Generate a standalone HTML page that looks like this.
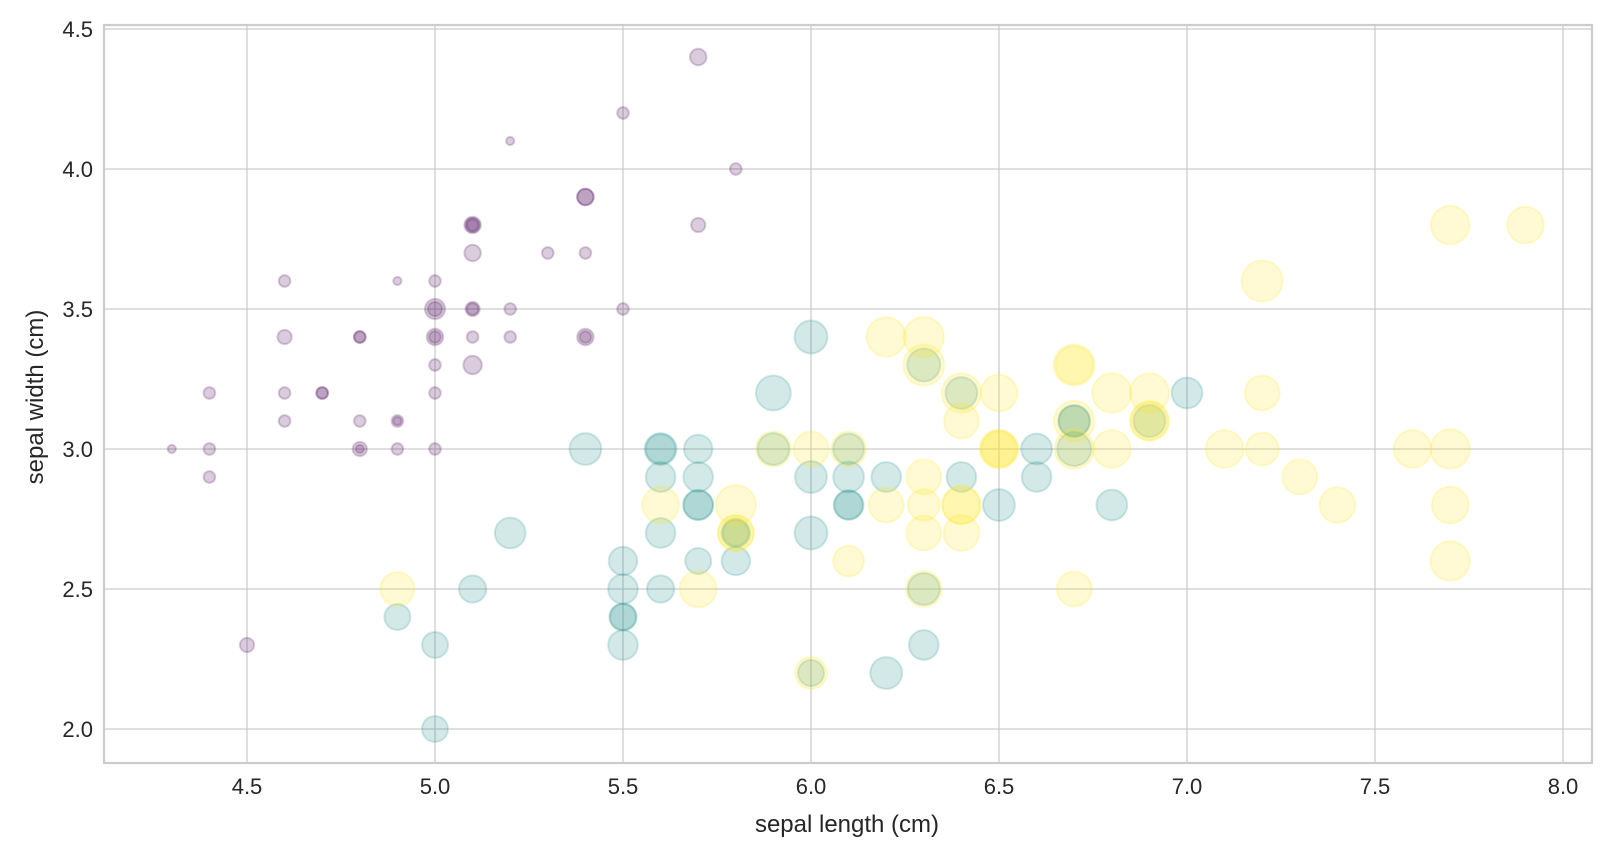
<!DOCTYPE html>
<html><head><meta charset="utf-8"><style>
body{margin:0;background:#fff}
svg text{font-family:"Liberation Sans",sans-serif;fill:#262626}
</style></head><body>
<svg id="s" width="1611" height="857" xmlns="http://www.w3.org/2000/svg">
<rect x="0" y="0" width="1611" height="857" fill="#fff"/>
<g id="grid" stroke="#cccccc" stroke-width="1.3"></g>
<g id="pts"></g>
<rect x="104" y="25" width="1488" height="738" fill="none" stroke="#cccccc" stroke-width="2.2"/>
<g id="lbl" font-size="22"></g>
<text x="847" y="832" font-size="24" text-anchor="middle">sepal length (cm)</text>
<text transform="translate(43,397) rotate(-90)" font-size="24" text-anchor="middle">sepal width (cm)</text>
</svg>
<script>
const X=v=>247+(v-4.5)*376, Y=v=>729-(v-2)*280;
const ns="http://www.w3.org/2000/svg";
function el(p,t,a,txt){const e=document.createElementNS(ns,t);for(const k in a)e.setAttribute(k,a[k]);if(txt)e.textContent=txt;document.getElementById(p).appendChild(e);}
for(let v=4.5;v<=8.001;v+=0.5){el("grid","line",{x1:X(v),x2:X(v),y1:25,y2:763});el("lbl","text",{x:X(v),y:794,"text-anchor":"middle"},v.toFixed(1));}
for(let v=2;v<=4.501;v+=0.5){el("grid","line",{x1:104,x2:1592,y1:Y(v),y2:Y(v)});el("lbl","text",{x:93,y:Y(v)+8,"text-anchor":"end"},v.toFixed(1));}
const d=[
"5.1,3.5,0.2;4.9,3.0,0.2;4.7,3.2,0.2;4.6,3.1,0.2;5.0,3.6,0.2;5.4,3.9,0.4;4.6,3.4,0.3;5.0,3.4,0.2;4.4,2.9,0.2;4.9,3.1,0.1;5.4,3.7,0.2;4.8,3.4,0.2;4.8,3.0,0.1;4.3,3.0,0.1;5.8,4.0,0.2;5.7,4.4,0.4;5.4,3.9,0.4;5.1,3.5,0.3;5.7,3.8,0.3;5.1,3.8,0.3;5.4,3.4,0.2;5.1,3.7,0.4;4.6,3.6,0.2;5.1,3.3,0.5;4.8,3.4,0.2;5.0,3.0,0.2;5.0,3.4,0.4;5.2,3.5,0.2;5.2,3.4,0.2;4.7,3.2,0.2;4.8,3.1,0.2;5.4,3.4,0.4;5.2,4.1,0.1;5.5,4.2,0.2;4.9,3.1,0.2;5.0,3.2,0.2;5.5,3.5,0.2;4.9,3.6,0.1;4.4,3.0,0.2;5.1,3.4,0.2;5.0,3.5,0.3;4.5,2.3,0.3;4.4,3.2,0.2;5.0,3.5,0.6;5.1,3.8,0.4;4.8,3.0,0.3;5.1,3.8,0.2;4.6,3.2,0.2;5.3,3.7,0.2;5.0,3.3,0.2",
"7.0,3.2,1.4;6.4,3.2,1.5;6.9,3.1,1.5;5.5,2.3,1.3;6.5,2.8,1.5;5.7,2.8,1.3;6.3,3.3,1.6;4.9,2.4,1.0;6.6,2.9,1.3;5.2,2.7,1.4;5.0,2.0,1.0;5.9,3.0,1.5;6.0,2.2,1.0;6.1,2.9,1.4;5.6,2.9,1.3;6.7,3.1,1.4;5.6,3.0,1.5;5.8,2.7,1.0;6.2,2.2,1.5;5.6,2.5,1.1;5.9,3.2,1.8;6.1,2.8,1.3;6.3,2.5,1.5;6.1,2.8,1.2;6.4,2.9,1.3;6.6,3.0,1.4;6.8,2.8,1.4;6.7,3.0,1.7;6.0,2.9,1.5;5.7,2.6,1.0;5.5,2.4,1.1;5.5,2.4,1.0;5.8,2.7,1.2;6.0,2.7,1.6;5.4,3.0,1.5;6.0,3.4,1.6;6.7,3.1,1.5;6.3,2.3,1.3;5.6,3.0,1.3;5.5,2.5,1.3;5.5,2.6,1.2;6.1,3.0,1.4;5.8,2.6,1.2;5.0,2.3,1.0;5.6,2.7,1.3;5.7,3.0,1.2;5.7,2.9,1.3;6.2,2.9,1.3;5.1,2.5,1.1;5.7,2.8,1.3",
"6.3,3.3,2.5;5.8,2.7,1.9;7.1,3.0,2.1;6.3,2.9,1.8;6.5,3.0,2.2;7.6,3.0,2.1;4.9,2.5,1.7;7.3,2.9,1.8;6.7,2.5,1.8;7.2,3.6,2.5;6.5,3.2,2.0;6.4,2.7,1.9;6.8,3.0,2.1;5.7,2.5,2.0;5.8,2.8,2.4;6.4,3.2,2.3;6.5,3.0,1.8;7.7,3.8,2.2;7.7,2.6,2.3;6.0,2.2,1.5;6.9,3.2,2.3;5.6,2.8,2.0;7.7,2.8,2.0;6.3,2.7,1.8;6.7,3.3,2.1;7.2,3.2,1.8;6.2,2.8,1.8;6.1,3.0,1.8;6.4,2.8,2.1;7.2,3.0,1.6;7.4,2.8,1.9;7.9,3.8,2.0;6.4,2.8,2.2;6.3,2.8,1.5;6.1,2.6,1.4;7.7,3.0,2.3;6.3,3.4,2.4;6.4,3.1,1.8;6.0,3.0,1.8;6.9,3.1,2.1;6.7,3.1,2.4;6.9,3.1,2.3;5.8,2.7,1.9;6.8,3.2,2.3;6.7,3.3,2.5;6.7,3.0,2.3;6.3,2.5,1.9;6.5,3.0,2.0;6.2,3.4,2.3;5.9,3.0,1.8"];
const cols=["#440154","#21918c","#fde725"];
d.forEach((s,i)=>s.split(";").forEach(r=>{const [a,b,w]=r.split(",").map(Number);
const rad=Math.sqrt(100*w)/2*2.6;
el("pts","circle",{cx:X(a),cy:Y(b),r:rad,fill:cols[i],"fill-opacity":0.2,stroke:cols[i],"stroke-opacity":0.2,"stroke-width":2});}));
</script>
</body></html>
